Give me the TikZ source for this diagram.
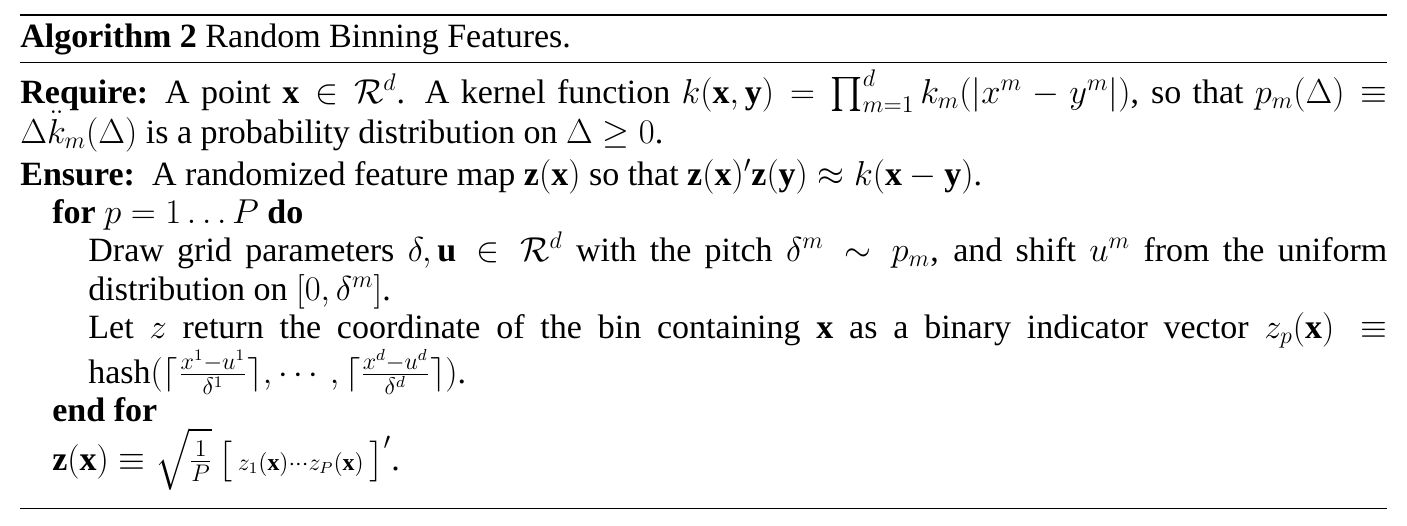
\documentclass[tikz,border=0pt]{standalone}
\usepackage{amsmath,amssymb}
\usepackage{fontspec}
\setmainfont{Liberation Serif}
\begin{document}
\begin{tikzpicture}[x=0.5pt,y=-0.5pt,
  ln/.style={anchor=base west,inner sep=0pt,font=\fontsize{17}{20}\selectfont}]
\useasboundingbox (0,0) rectangle (1407,525);
\draw[line width=1pt] (20,15) coordinate (tl) -- (1387,15) coordinate (tr);
\node[ln] (title) at (20,47) {\textbf{Algorithm 2} Random Binning Features.};
\draw[line width=0.5pt] (20,62) coordinate (ml) -- (1387,62) coordinate (mr);
\node[ln] (l1) at (20,103) {\hbox to 683.5pt{\textbf{Require:}\enspace A point $\mathbf{x}\in\mathcal{R}^d$. A kernel function $k(\mathbf{x},\mathbf{y})=\prod_{m=1}^d k_m(|x^m-y^m|)$, so that $p_m(\Delta)\equiv$}};
\node[ln] (l2) at (20,143) {$\Delta\ddot{k}_m(\Delta)$ is a probability distribution on $\Delta\geq 0$.};
\node[ln] (l3) at (20,185) {\textbf{Ensure:}\enspace A randomized feature map $\mathbf{z}(\mathbf{x})$ so that $\mathbf{z}(\mathbf{x})'\mathbf{z}(\mathbf{y})\approx k(\mathbf{x}-\mathbf{y})$.};
\node[ln] (l4) at (52,223) {\textbf{for} $p=1\ldots P$ \textbf{do}};
\node[ln] (l5) at (88,261) {\hbox to 649.5pt{Draw grid parameters $\delta,\mathbf{u}\in\mathcal{R}^d$ with the pitch $\delta^m\sim p_m$, and shift $u^m$ from the uniform}};
\node[ln] (l6) at (88,300) {distribution on $[0,\delta^m]$.};
\node[ln] (l7) at (88,338) {\hbox to 649.5pt{Let $z$ return the coordinate of the bin containing $\mathbf{x}$ as a binary indicator vector $z_p(\mathbf{x})\equiv$}};
\node[ln] (l8) at (88,383) {$\mathrm{hash}(\lceil\frac{x^1-u^1}{\delta^1}\rceil,\cdots,\lceil\frac{x^d-u^d}{\delta^d}\rceil)$.};
\node[ln] (l9) at (52,421) {\textbf{end for}};
\node[ln] (l10) at (52,470) {$\mathbf{z}(\mathbf{x})\equiv\sqrt{\frac{1}{P}}\,\big[\,{\scriptstyle z_1(\mathbf{x})\cdots z_P(\mathbf{x})}\,\big]'$.};
\draw[line width=0.5pt] (20,508) coordinate (bl) -- (1387,508) coordinate (br);
\end{tikzpicture}
\end{document}
